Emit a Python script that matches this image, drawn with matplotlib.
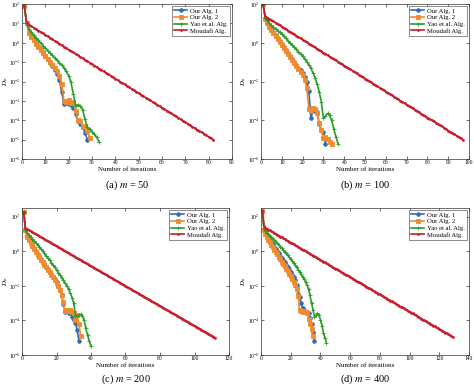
import numpy as np
import matplotlib
matplotlib.use("Agg")
from matplotlib import pyplot as plt
from matplotlib.ticker import FixedLocator, NullLocator

plt.rcParams['font.family'] = ['Liberation Serif', 'DejaVu Serif']
plt.rcParams['mathtext.fontset'] = 'stix'

labels = ["Our Alg. 1", "Our Alg. 2", "Yao et al. Alg.", "Moudafi Alg."]
colors = ["#2f6db3", "#f28a2e", "#2a9d2a", "#c81e2c"]
markers = ["o", "s", "+", "."]
captions = ["(a) $m$ = 50", "(b) $m$ = 100", "(c) $m$ = 200", "(d) $m$ = 400"]

# log10(D_n), one value per iteration (starting at n = 1)
blue_a = [1.90, 1.00, 0.55, 0.35, 0.17, 0.00, -0.17, -0.33, -0.50, -0.68, -0.85, -1.02, -1.20, -1.40,
          -1.62, -1.90, -2.55, -3.15, -3.10, -3.15, -3.20, -3.35, -3.70, -4.05, -4.20, -4.35, -4.65, -5.00]
orange_a = [1.90, 1.00, 0.50, 0.30, 0.12, -0.05, -0.22, -0.38, -0.53, -0.68, -0.83, -0.98, -1.13, -1.28,
            -1.47, -1.72, -2.15, -3.00, -3.05, -2.95, -3.10, -3.05, -3.50, -4.00, -4.05, -4.35, -4.30,
            -4.55, -4.90]
green_a = [1.90, 1.00, 0.70, 0.55, 0.40, 0.25, 0.12, -0.02, -0.15, -0.28, -0.40, -0.52, -0.65, -0.78,
           -0.90, -1.02, -1.15, -1.30, -1.48, -1.70, -2.05, -2.65, -3.25, -3.20, -3.25, -3.45, -3.95,
           -4.35, -4.45, -4.60, -4.72, -4.88, -5.10]
red_a = [1.90, 1.00, 0.93, 0.85, 0.78, 0.70, 0.63, 0.55, 0.48, 0.40, 0.33, 0.25, 0.18, 0.10, 0.03,
         -0.05, -0.13, -0.20, -0.28, -0.35, -0.43, -0.50, -0.58, -0.65, -0.73, -0.80, -0.88, -0.95,
         -1.03, -1.10, -1.18, -1.25, -1.33, -1.40, -1.48, -1.55, -1.63, -1.70, -1.78, -1.85, -1.93,
         -2.00, -2.08, -2.15, -2.23, -2.30, -2.38, -2.45, -2.53, -2.60, -2.68, -2.75, -2.83, -2.90,
         -2.98, -3.05, -3.13, -3.20, -3.28, -3.35, -3.43, -3.50, -3.58, -3.65, -3.73, -3.80, -3.88,
         -3.95, -4.03, -4.10, -4.18, -4.25, -4.33, -4.40, -4.48, -4.55, -4.63, -4.70, -4.78, -4.85,
         -4.93, -5.00]

blue_b = [2.00, 1.30, 1.05, 0.88, 0.72, 0.56, 0.40, 0.24, 0.08, -0.08, -0.23, -0.38, -0.53, -0.68,
          -0.83, -0.98, -1.13, -1.28, -1.42, -1.56, -1.75, -2.00, -2.50, -3.90, -3.50, -3.45, -3.55,
          -4.20, -4.50, -4.60, -5.20]
orange_b = [2.00, 1.25, 1.00, 0.83, 0.66, 0.50, 0.34, 0.18, 0.02, -0.14, -0.29, -0.44, -0.59, -0.74,
            -0.89, -1.04, -1.19, -1.34, -1.50, -1.66, -1.90, -2.35, -3.40, -3.50, -3.35, -3.40, -3.65,
            -4.15, -4.50, -4.90, -4.85, -4.95, -5.10, -5.20]
green_b = [2.00, 1.30, 1.15, 1.00, 0.90, 0.80, 0.71, 0.62, 0.53, 0.44, 0.33, 0.22, 0.11, 0.00, -0.11,
           -0.22, -0.34, -0.46, -0.58, -0.70, -0.84, -0.98, -1.14, -1.32, -1.55, -1.82, -2.15, -2.55,
           -3.05, -3.90, -3.80, -3.65, -3.75, -4.00, -4.45, -4.85, -5.20]
red_b = [2.00, 1.37, 1.30, 1.24, 1.17, 1.10, 1.04, 0.97, 0.90, 0.83, 0.77, 0.70, 0.63, 0.57, 0.50,
         0.43, 0.37, 0.30, 0.23, 0.16, 0.10, 0.03, -0.04, -0.10, -0.17, -0.24, -0.31, -0.37, -0.44,
         -0.51, -0.57, -0.64, -0.71, -0.77, -0.84, -0.91, -0.98, -1.04, -1.11, -1.18, -1.24, -1.31,
         -1.38, -1.44, -1.51, -1.58, -1.65, -1.71, -1.78, -1.85, -1.91, -1.98, -2.05, -2.11, -2.18,
         -2.25, -2.32, -2.38, -2.45, -2.52, -2.58, -2.65, -2.72, -2.78, -2.85, -2.92, -2.99, -3.05,
         -3.12, -3.19, -3.25, -3.32, -3.39, -3.45, -3.52, -3.59, -3.66, -3.72, -3.79, -3.86, -3.92,
         -3.99, -4.06, -4.12, -4.19, -4.26, -4.32, -4.39, -4.46, -4.53, -4.59, -4.66, -4.73, -4.79,
         -4.86, -4.93, -5.00]

blue_c = [2.25, 1.25, 0.90, 0.70, 0.52, 0.35, 0.18, 0.02, -0.14, -0.30, -0.45, -0.60, -0.75, -0.90,
          -1.04, -1.18, -1.32, -1.47, -1.62, -1.80, -2.00, -2.25, -2.55, -3.05, -3.50, -3.45, -3.55,
          -3.55, -3.80, -3.95, -4.15, -4.55, -5.20]
orange_c = [2.25, 1.20, 0.85, 0.65, 0.47, 0.30, 0.13, -0.03, -0.19, -0.35, -0.50, -0.65, -0.79, -0.93,
            -1.07, -1.21, -1.35, -1.50, -1.65, -1.82, -2.02, -2.25, -2.55, -2.95, -3.45, -3.40, -3.45,
            -3.40, -3.50, -3.60, -4.00, -3.70, -4.20, -4.90]
green_c = [2.25, 1.25, 1.08, 0.95, 0.82, 0.70, 0.59, 0.48, 0.37, 0.26, 0.13, 0.00, -0.13, -0.26, -0.39,
           -0.52, -0.66, -0.80, -0.94, -1.08, -1.23, -1.38, -1.53, -1.68, -1.85, -2.02, -2.20, -2.42,
           -2.68, -3.00, -3.72, -3.75, -3.70, -3.65, -3.72, -4.00, -4.45, -4.85, -5.20, -5.50]
red_c = [2.25, 1.33, 1.27, 1.22, 1.16, 1.10, 1.04, 0.99, 0.93, 0.87, 0.81, 0.76, 0.70, 0.64, 0.58,
         0.53, 0.47, 0.41, 0.35, 0.30, 0.24, 0.18, 0.12, 0.07, 0.01, -0.05, -0.11, -0.17, -0.22,
         -0.28, -0.34, -0.40, -0.45, -0.51, -0.57, -0.63, -0.68, -0.74, -0.80, -0.86, -0.91, -0.97,
         -1.03, -1.09, -1.14, -1.20, -1.26, -1.32, -1.37, -1.43, -1.49, -1.55, -1.60, -1.66, -1.72,
         -1.78, -1.83, -1.89, -1.95, -2.01, -2.06, -2.12, -2.18, -2.24, -2.29, -2.35, -2.41, -2.47,
         -2.52, -2.58, -2.64, -2.70, -2.75, -2.81, -2.87, -2.93, -2.98, -3.04, -3.10, -3.16, -3.21,
         -3.27, -3.33, -3.39, -3.44, -3.50, -3.56, -3.62, -3.67, -3.73, -3.79, -3.85, -3.90, -3.96,
         -4.02, -4.08, -4.13, -4.19, -4.25, -4.31, -4.36, -4.42, -4.48, -4.54, -4.59, -4.65, -4.71,
         -4.77, -4.82, -4.88, -4.94, -5.00]

blue_d = [2.35, 1.30, 1.10, 0.95, 0.80, 0.66, 0.53, 0.40, 0.27, 0.14, 0.01, -0.12, -0.25, -0.38, -0.51,
          -0.64, -0.77, -0.91, -1.05, -1.20, -1.35, -1.50, -1.65, -1.95, -2.45, -2.65, -3.00, -3.30,
          -3.45, -3.50, -3.50, -3.55, -3.85, -4.20, -4.65, -5.20]
orange_d = [2.35, 1.25, 1.00, 0.83, 0.67, 0.52, 0.38, 0.24, 0.10, -0.04, -0.18, -0.32, -0.46, -0.60,
            -0.74, -0.88, -1.02, -1.16, -1.30, -1.45, -1.60, -1.76, -1.95, -2.20, -2.60, -3.40, -3.45,
            -3.50, -3.45, -3.50, -3.55, -3.90, -4.20, -4.50, -4.90]
green_d = [2.35, 1.30, 1.18, 1.08, 0.99, 0.90, 0.81, 0.72, 0.63, 0.54, 0.45, 0.36, 0.27, 0.17, 0.07,
           -0.03, -0.13, -0.24, -0.35, -0.46, -0.57, -0.69, -0.81, -0.94, -1.07, -1.20, -1.34, -1.48,
           -1.62, -1.78, -1.96, -2.20, -2.55, -3.00, -3.40, -3.80, -3.70, -3.60, -3.70, -3.95, -4.30,
           -4.70, -5.00, -5.30]
red_d = [2.35, 1.48, 1.35, 1.30, 1.25, 1.20, 1.15, 1.10, 1.05, 1.00, 0.95, 0.90, 0.85, 0.80, 0.75,
         0.70, 0.65, 0.60, 0.55, 0.50, 0.45, 0.40, 0.35, 0.30, 0.25, 0.20, 0.15, 0.10, 0.05, 0.00,
         -0.05, -0.10, -0.15, -0.20, -0.25, -0.30, -0.35, -0.40, -0.45, -0.50, -0.55, -0.60, -0.65,
         -0.70, -0.75, -0.80, -0.85, -0.90, -0.95, -1.00, -1.05, -1.10, -1.15, -1.20, -1.25, -1.30,
         -1.35, -1.40, -1.45, -1.50, -1.55, -1.60, -1.65, -1.70, -1.75, -1.80, -1.85, -1.90, -1.95,
         -2.00, -2.05, -2.10, -2.15, -2.20, -2.25, -2.30, -2.35, -2.40, -2.45, -2.50, -2.55, -2.60,
         -2.65, -2.70, -2.75, -2.80, -2.85, -2.90, -2.95, -3.00, -3.05, -3.10, -3.15, -3.20, -3.25,
         -3.30, -3.35, -3.40, -3.45, -3.50, -3.55, -3.60, -3.65, -3.70, -3.75, -3.80, -3.85, -3.90,
         -3.95, -4.00, -4.05, -4.10, -4.15, -4.20, -4.25, -4.30, -4.35, -4.40, -4.45, -4.50, -4.55,
         -4.60, -4.65, -4.70, -4.75, -4.80, -4.85, -4.90, -4.95]

panels = [
    ([blue_a, orange_a, green_a, red_a], 90, 10, 2.0, 1),
    ([blue_b, orange_b, green_b, red_b], 100, 10, 2.0, 2),
    ([blue_c, orange_c, green_c, red_c], 120, 20, 2.5, 2),
    ([blue_d, orange_d, green_d, red_d], 140, 20, 2.5, 2),
]

# axes boxes in pixels: left, right, top, bottom
px = [(22, 232, 4, 159),
      (261, 469, 4, 159),
      (22, 229, 208, 355),
      (261, 469, 208, 355)]
W, H = 474, 387

fig = plt.figure(figsize=(W / 100, H / 100), dpi=100)

for i, (series, xmax, xstep, ytop, ystep) in enumerate(panels):
    l, r, t, btm = px[i]
    ax = fig.add_axes([l / W, 1 - btm / H, (r - l) / W, (btm - t) / H])
    for s, lab, c, mk in zip(series, labels, colors, markers):
        n = np.arange(1, len(s) + 1)
        ax.semilogy(n, 10.0 ** np.array(s), color=c, marker=mk, markersize=2.6,
                    markeredgewidth=0.6, linewidth=1.2, label=lab)
    ax.set_xlim(0, xmax)
    ax.set_ylim(1e-6, 10 ** ytop)
    ax.set_xticks(np.arange(0, xmax + 1, xstep))
    ax.yaxis.set_major_locator(FixedLocator([10.0 ** k for k in range(-6, 3, ystep)]))
    ax.yaxis.set_minor_locator(NullLocator())
    ax.tick_params(which='both', direction='in', top=True, right=True, labelsize=4.0,
                   length=2, width=0.4, pad=1.0)
    for sp in ax.spines.values():
        sp.set_linewidth(0.5)
        sp.set_color('#333333')
    ax.set_xlabel("Number of iterations", fontsize=5, labelpad=1)
    ax.set_ylabel("$D_n$", fontsize=5)
    ax.yaxis.set_label_coords(-12.5 / (r - l), 0.5)
    leg = ax.legend(loc='upper right', fontsize=4.8, handlelength=2.0, handletextpad=0.4,
                    borderpad=0.3, labelspacing=0.15, fancybox=False, framealpha=1,
                    borderaxespad=0.3)
    leg.get_frame().set_linewidth(0.4)
    leg.get_frame().set_edgecolor('#333333')
    cy = 185 if i < 2 else 379
    fig.text((l + r) / 2 / W, 1 - cy / H, captions[i], ha='center', va='center', fontsize=7.5)

fig.savefig("out.png", dpi=100)
